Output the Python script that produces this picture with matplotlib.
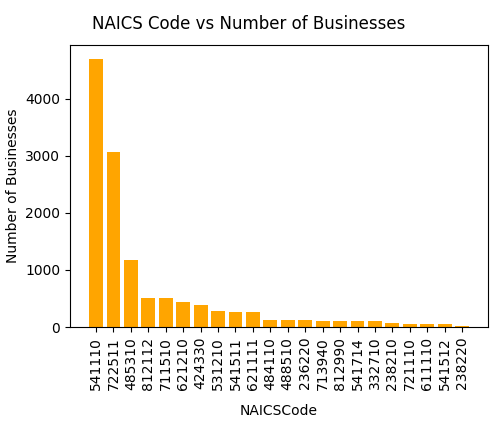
import matplotlib
matplotlib.use("Agg")
import matplotlib.pyplot as plt

# NAICS codes and business counts
codes = ["541110", "722511", "485310", "812112", "711510", "621210", "424330",
         "531210", "541511", "621111", "484110", "488510", "236220", "713940",
         "812990", "541714", "332710", "238210", "721110", "611110", "541512", "238220"]
counts = [4700, 3070, 1178, 509, 509, 442, 393, 282, 258, 258, 117, 117, 117,
          98, 98, 98, 98, 74, 49, 49, 49, 25]

fig = plt.figure(figsize=(4.97, 4.22), dpi=100)
ax = fig.add_axes([0.141, 0.225, 0.841, 0.668])
ax.bar(codes, counts, color="orange")
ax.set_xticks(range(len(codes)))
ax.set_xticklabels(codes, rotation=90)
ax.set_xlabel("NAICSCode", labelpad=10)
ax.set_ylabel("Number of Businesses")
fig.suptitle("NAICS Code vs Number of Businesses", y=0.965)
ax.tick_params(labelsize=10)
plt.savefig("out.png", dpi=100)
